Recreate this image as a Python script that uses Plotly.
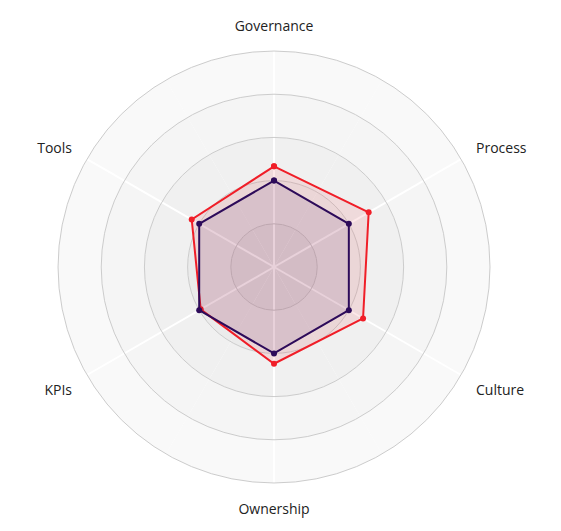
import plotly.graph_objects as go

categories = ["Governance", "Process", "Culture", "Ownership", "KPIs", "Tools"]
series_a_name = "Current"
series_a = [2.33, 2.53, 2.38, 2.24, 1.96, 2.2]
series_b_name = "Baseline"
series_b = [2.0, 2.0, 2.0, 2.0, 2.0, 2.0]
max_value = 5
ring_levels = [0, 1, 2, 3, 4]
ring_colors = ["#e6e6e6", "#ebebeb", "#f0f0f0", "#f5f5f5", "#f9f9f9"]

fig = go.Figure()

# background split areas (rings) on the lower polar subplot
for lvl, col in zip(ring_levels, ring_colors):
    fig.add_trace(go.Barpolar(
        theta=categories, r=[1] * len(categories), base=[lvl] * len(categories),
        marker=dict(color=col, line=dict(width=0)),
        hoverinfo="skip", showlegend=False, subplot="polar",
    ))

fig.add_trace(go.Scatterpolar(
    r=series_a + series_a[:1], theta=categories + categories[:1],
    mode="lines+markers", name=series_a_name, fill="toself",
    fillcolor="rgba(240,30,40,0.1)",
    line=dict(color="#f01e28", width=2), marker=dict(size=6, color="#f01e28"),
    subplot="polar2", showlegend=False,
))
fig.add_trace(go.Scatterpolar(
    r=series_b + series_b[:1], theta=categories + categories[:1],
    mode="lines+markers", name=series_b_name, fill="toself",
    fillcolor="rgba(45,11,90,0.1)",
    line=dict(color="#2d0b5a", width=2), marker=dict(size=6, color="#2d0b5a"),
    subplot="polar2", showlegend=False,
))

dom_x = [0.0208, 0.9190]
dom_y = [0.0355, 0.9933]

common_angular = dict(direction="clockwise", rotation=90, categoryorder="array",
                      categoryarray=categories)

fig.update_layout(
    width=561, height=531,
    margin=dict(l=40, r=40, t=40, b=40, autoexpand=False),
    paper_bgcolor="white",
    font=dict(family="Open Sans", size=14, color="#222"),
    polar=dict(
        domain=dict(x=dom_x, y=dom_y),
        bgcolor="white",
        barmode="overlay",
        bargap=0,
        radialaxis=dict(range=[0, max_value], visible=False, showgrid=False),
        angularaxis=dict(showgrid=False, showline=False, showticklabels=False,
                         ticks="", **common_angular),
    ),
    polar2=dict(
        domain=dict(x=dom_x, y=dom_y),
        bgcolor="rgba(0,0,0,0)",
        radialaxis=dict(range=[0, max_value], showticklabels=False, ticks="",
                        showline=False, gridcolor="#cccccc", gridwidth=1,
                        tickvals=[1, 2, 3, 4]),
        angularaxis=dict(showgrid=True, gridcolor="white", gridwidth=1.5,
                         showline=True, linecolor="#cccccc", linewidth=1,
                         ticks="outside", ticklen=14, tickcolor="rgba(0,0,0,0)",
                         tickfont=dict(family="Open Sans", size=14, color="#222"),
                         **common_angular),
    ),
)

fig.write_html("out.html")
